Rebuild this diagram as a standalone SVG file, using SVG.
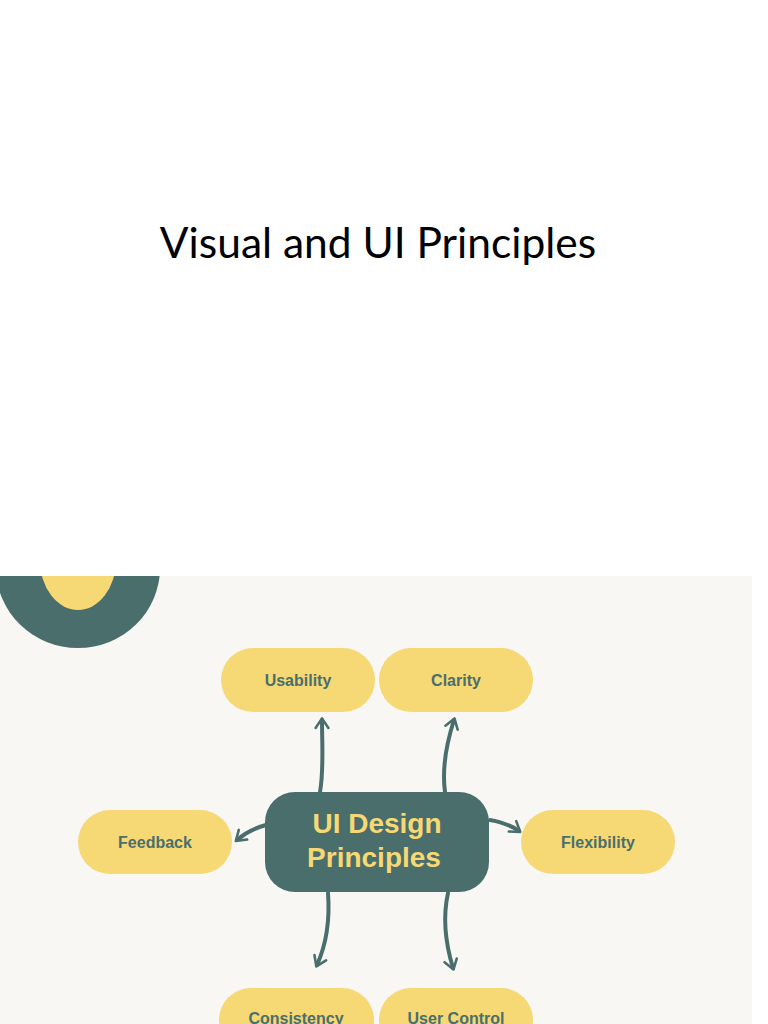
<svg xmlns="http://www.w3.org/2000/svg" width="768" height="1024" viewBox="0 0 768 1024">
<style>
.pill{fill:#f6d875}
.lbl{font-family:"Liberation Sans",Arial,sans-serif;font-weight:bold;font-size:16px;fill:#4a6e6c;text-anchor:middle}
.con{fill:none;stroke:#4a6e6c;stroke-width:4;stroke-linecap:round;marker-end:url(#ah)}
</style>
<defs>
<marker id="ah" viewBox="0 0 10 10" refX="6" refY="5" markerWidth="4" markerHeight="4" orient="auto" markerUnits="strokeWidth">
<path d="M1,1 L7,5 L1,9" fill="none" stroke="#4a6e6c" stroke-width="1.6" stroke-linecap="round" stroke-linejoin="round"/>
</marker>
<clipPath id="pc"><rect x="0" y="576" width="752" height="448"/></clipPath>
</defs>
<rect width="768" height="1024" fill="#ffffff"/>
<text x="378" y="258" font-family="Lato,'Open Sans',sans-serif" font-size="42.5" text-anchor="middle" fill="#000">Visual and UI Principles</text>
<rect x="0" y="576" width="752" height="448" fill="#f8f7f4"/>
<g clip-path="url(#pc)">
<ellipse cx="78" cy="568" rx="82" ry="80" fill="#4a6e6c"/>
<ellipse cx="78" cy="560" rx="38" ry="50" fill="#f6d875"/>
</g>
<g id="connectors">
<path class="con" d="M320,792 C324,770 322,745 322,720"/>
<path class="con" d="M445,792 C442,770 446,745 454,720"/>
<path class="con" d="M266,825 C255,828 245,833 237,840"/>
<path class="con" d="M490,820 C502,822 512,826 519,831"/>
<path class="con" d="M328,893 C330,920 326,945 317,965"/>
<path class="con" d="M448,893 C442,920 446,945 453,968"/>
</g>
<g id="center"><rect x="265" y="792" width="224" height="100" rx="30" fill="#4a6e6c"/>
<text x="377" y="833" font-family="'Liberation Sans',Arial,sans-serif" font-weight="bold" font-size="28" fill="#f6d875" text-anchor="middle">UI Design</text>
<text x="374" y="867" font-family="'Liberation Sans',Arial,sans-serif" font-weight="bold" font-size="28" fill="#f6d875" text-anchor="middle">Principles</text></g>
<g id="usability"><rect class="pill" x="221" y="648" width="154" height="64" rx="32"/><text class="lbl" x="298" y="686">Usability</text></g>
<g id="clarity"><rect class="pill" x="379" y="648" width="154" height="64" rx="32"/><text class="lbl" x="456" y="686">Clarity</text></g>
<g id="feedback"><rect class="pill" x="78" y="810" width="154" height="64" rx="32"/><text class="lbl" x="155" y="848">Feedback</text></g>
<g id="flexibility"><rect class="pill" x="521" y="810" width="154" height="64" rx="32"/><text class="lbl" x="598" y="848">Flexibility</text></g>
<g id="consistency"><rect class="pill" x="219" y="988" width="155" height="64" rx="32"/><text class="lbl" x="296" y="1024">Consistency</text></g>
<g id="usercontrol"><rect class="pill" x="379" y="988" width="154" height="64" rx="32"/><text class="lbl" x="456" y="1024">User Control</text></g>
</svg>
